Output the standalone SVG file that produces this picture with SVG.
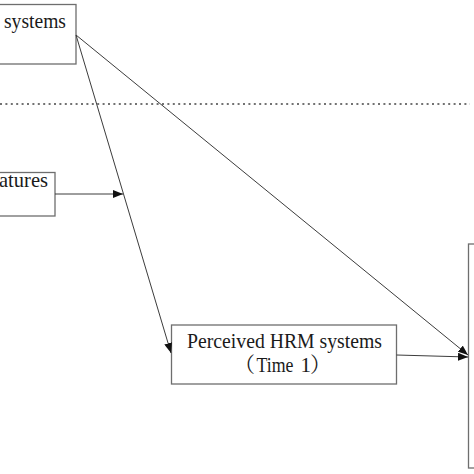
<svg xmlns="http://www.w3.org/2000/svg" width="474" height="474" viewBox="0 0 474 474">
<style>
.box{fill:#fff;stroke:#6e6e6e;stroke-width:1.3}
.t{font-family:"Liberation Serif","Noto Serif CJK SC","Noto Sans CJK SC",serif;font-size:21px;fill:#1a1a1a}
.c{stroke:#3c3c3c;stroke-width:1;fill:none}
</style>
<defs>
<marker id="ah" viewBox="0 0 10 8" refX="10" refY="4" markerWidth="10" markerHeight="8" markerUnits="userSpaceOnUse" orient="auto">
<path d="M0,0 L10,4 L0,8 Z" fill="#111"/>
</marker>
</defs>
<rect width="474" height="474" fill="#fff"/>
<line x1="0" y1="104" x2="470" y2="104" stroke="#444" stroke-width="1.5" stroke-dasharray="2,3.4"/>
<g id="node-hrm-top">
<rect class="box" x="-10" y="4.5" width="86" height="59.5"/>
<text class="t" x="4" y="28" textLength="62" lengthAdjust="spacingAndGlyphs">systems</text>
</g>
<g id="node-features">
<rect class="box" x="-10" y="172.5" width="65" height="43.5"/>
<text class="t" x="-1" y="187" textLength="49" lengthAdjust="spacingAndGlyphs">atures</text>
</g>
<g id="node-perceived">
<rect class="box" x="171.5" y="325" width="225" height="59"/>
<text class="t" x="187" y="348" textLength="195" lengthAdjust="spacingAndGlyphs">Perceived HRM systems</text>
<text class="t" y="372"><tspan x="234">（</tspan><tspan x="256.5" textLength="37" lengthAdjust="spacingAndGlyphs">Time</tspan><tspan x="300.5">1</tspan><tspan x="310">）</tspan></text>
</g>
<g id="node-right">
<rect class="box" x="468.5" y="244" width="20" height="224"/>
</g>
<g id="connectors">
<line class="c" x1="76" y1="35" x2="171" y2="353" marker-end="url(#ah)"/>
<line class="c" x1="76" y1="35" x2="468" y2="355" marker-end="url(#ah)"/>
<line class="c" x1="55" y1="194" x2="123" y2="194" marker-end="url(#ah)"/>
<line class="c" x1="396.5" y1="355" x2="468" y2="357" marker-end="url(#ah)"/>
</g>
</svg>
